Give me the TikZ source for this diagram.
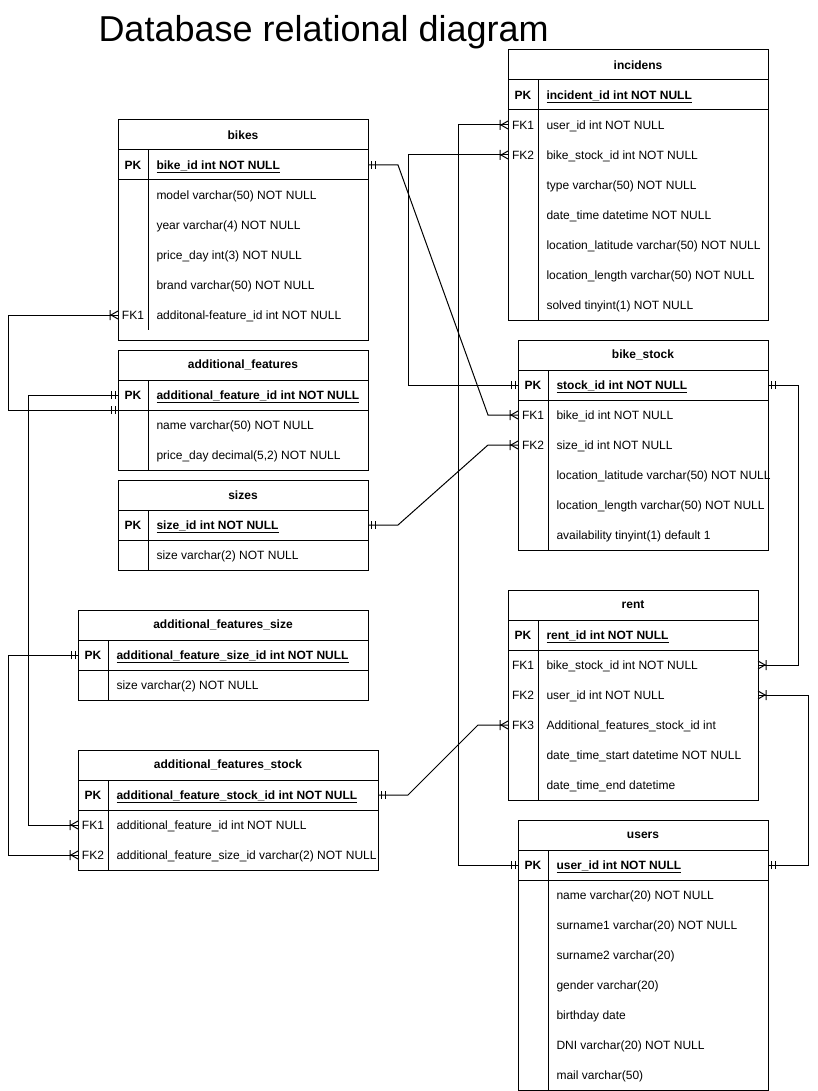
\documentclass[tikz,border=0pt]{standalone}
\usepackage{fontspec}
\setmainfont{Liberation Sans}
\usepackage{tikz}
\usetikzlibrary{arrows.meta, positioning, calc}

% ER end markers: mandatory one, one-to-many
\pgfdeclarearrow{
  name = ERone,
  setup code = {
    \pgfarrowssettipend{0pt}
    \pgfarrowssetlineend{0pt}
    \pgfarrowssetbackend{-8pt}
    \pgfarrowshullpoint{0pt}{4pt}
    \pgfarrowshullpoint{-8pt}{4pt}
    \pgfarrowshullpoint{-8pt}{-4pt}
    \pgfarrowshullpoint{0pt}{-4pt}
  },
  drawing code = {
    \pgfpathmoveto{\pgfpoint{-3pt}{-4pt}}
    \pgfpathlineto{\pgfpoint{-3pt}{4pt}}
    \pgfpathmoveto{\pgfpoint{-7pt}{-4pt}}
    \pgfpathlineto{\pgfpoint{-7pt}{4pt}}
    \pgfusepathqstroke
  }
}
\pgfdeclarearrow{
  name = ERmany,
  setup code = {
    \pgfarrowssettipend{0pt}
    \pgfarrowssetlineend{0pt}
    \pgfarrowssetbackend{-9pt}
    \pgfarrowshullpoint{0pt}{5pt}
    \pgfarrowshullpoint{-9pt}{5pt}
    \pgfarrowshullpoint{-9pt}{-5pt}
    \pgfarrowshullpoint{0pt}{-5pt}
  },
  drawing code = {
    \pgfpathmoveto{\pgfpoint{-8pt}{-5pt}}
    \pgfpathlineto{\pgfpoint{-8pt}{5pt}}
    \pgfpathmoveto{\pgfpoint{0pt}{4pt}}
    \pgfpathlineto{\pgfpoint{-7pt}{0pt}}
    \pgfpathlineto{\pgfpoint{0pt}{-4pt}}
    \pgfusepathqstroke
  }
}

\tikzset{
    tabletitle/.style={rectangle, draw, anchor=north west, minimum height=30pt, inner sep=0pt, outer sep=0pt, font=\fontsize{12pt}{14pt}\selectfont\bfseries},
    pkrow/.style={rectangle, draw, minimum height=30pt, inner sep=0pt, outer sep=0pt},
    tablebody/.style={rectangle, draw, inner sep=0pt, outer sep=0pt},
    rowbox/.style={rectangle, anchor=north west, minimum height=30pt, inner sep=0pt, outer sep=0pt},
    keytext/.style={anchor=center, inner sep=0pt, text height=8.6pt, text depth=0pt},
    fieldtext/.style={anchor=west, inner sep=0pt, text height=8.6pt, text depth=0pt},
    rel/.style={draw}
}

% #1 name, #2 top left, #3 width, #4 key column, #5 title, #6 pk field, #7 rows, #8 body height
\newcommand{\dbtable}[8]{%
  \node[tabletitle, minimum width=#3pt] (#1) at (#2) {#5};
  \node[pkrow, minimum width=#3pt, below=0pt of #1] (#1-pk) {};
  \node[tablebody, minimum width=#3pt, minimum height=#8pt, below=0pt of #1-pk] (#1-body) {};
  \draw (#1-pk.north west) ++(#4,0) -- ++(0,30);
  \node[keytext] (#1-pk-key) at ($(#1-pk.west)+(#4/2,0)$) {\bfseries PK};
  \node[fieldtext] (#1-pk-text) at ($(#1-pk.west)+(#4+8,0)$) {\bfseries\underline{#6}};
  \foreach \k/\f [count=\i] in {#7} {
    \node[rowbox, minimum width=#3pt] (#1-\i) at ($(#1-body.north west)+(0,30*\i-30)$) {};
    \draw ($(#1-\i.north west)+(#4,0)$) -- ($(#1-\i.south west)+(#4,0)$);
    \node[keytext] (#1-\i-key) at ($(#1-\i.west)+(#4/2,0)$) {\k};
    \node[fieldtext] (#1-\i-text) at ($(#1-\i.west)+(#4+8,0)$) {\f};
  }%
}

\begin{document}
\begin{tikzpicture}[x=1pt, y=-1pt, line width=1pt, font=\fontsize{12pt}{14pt}\selectfont]
\useasboundingbox (0,0) rectangle (818,1091);

\node[anchor=base west, inner sep=0pt] (title) at (98,42) {\fontsize{36pt}{40pt}\selectfont Database relational diagram};

% tables
\dbtable{bikes}{118,120}{250}{30}{bikes}{bike\_id int NOT NULL}%
  {/model varchar(50) NOT NULL, /year varchar(4) NOT NULL, /price\_day int(3) NOT NULL, /brand varchar(50) NOT NULL, FK1/additonal-feature\_id int NOT NULL}{160}
\dbtable{incid}{508,50}{260}{30}{incidens}{incident\_id int NOT NULL}%
  {FK1/user\_id int NOT NULL, FK2/bike\_stock\_id int NOT NULL, /type varchar(50) NOT NULL, /date\_time datetime NOT NULL, /location\_latitude varchar(50) NOT NULL, /location\_length varchar(50) NOT NULL, /solved tinyint(1) NOT NULL}{210}
\dbtable{bstock}{518,340}{250}{30}{bike\_stock}{stock\_id int NOT NULL}%
  {FK1/bike\_id int NOT NULL, FK2/size\_id int NOT NULL, /location\_latitude varchar(50) NOT NULL, /location\_length varchar(50) NOT NULL, /availability tinyint(1) default 1}{150}
\dbtable{addf}{118,350}{250}{30}{additional\_features}{additional\_feature\_id int NOT NULL}%
  {/name varchar(50) NOT NULL, /{price\_day decimal(5,2) NOT NULL}}{60}
\dbtable{sizes}{118,480}{250}{30}{sizes}{size\_id int NOT NULL}%
  {/size varchar(2) NOT NULL}{30}
\dbtable{addfsize}{78,610}{290}{30}{additional\_features\_size}{additional\_feature\_size\_id int NOT NULL}%
  {/size varchar(2) NOT NULL}{30}
\dbtable{addfstock}{78,750}{300}{30}{additional\_features\_stock}{additional\_feature\_stock\_id int NOT NULL}%
  {FK1/additional\_feature\_id int NOT NULL, FK2/additional\_feature\_size\_id varchar(2) NOT NULL}{60}
\dbtable{rent}{508,590}{250}{30}{rent}{rent\_id int NOT NULL}%
  {FK1/bike\_stock\_id int NOT NULL, FK2/user\_id int NOT NULL, FK3/Additional\_features\_stock\_id int, /date\_time\_start datetime NOT NULL, /date\_time\_end datetime}{150}
\dbtable{users}{518,820}{250}{30}{users}{user\_id int NOT NULL}%
  {/name varchar(20) NOT NULL, /surname1 varchar(20) NOT NULL, /surname2 varchar(20), /gender varchar(20), /birthday date, /DNI varchar(20) NOT NULL, /mail varchar(50)}{210}

% relations
\draw[rel, ERone-ERmany] (bikes-pk.east) -- ++(30,0) -- ($(bstock-1.west)+(-30,0)$) -- (bstock-1.west);
\draw[rel, ERone-ERmany] (sizes-pk.east) -- ++(30,0) -- ($(bstock-2.west)+(-30,0)$) -- (bstock-2.west);
\draw[rel, ERone-ERmany] (bstock-pk.west) -- ++(-110,0) |- (incid-2.west);
\draw[rel, ERone-ERmany] (users-pk.west) -- ++(-60,0) |- (incid-1.west);
\draw[rel, ERone-ERmany] (bstock-pk.east) -- ++(30,0) |- (rent-1.east);
\draw[rel, ERone-ERmany] (users-pk.east) -- ++(40,0) |- (rent-2.east);
\draw[rel, ERone-ERmany] (addfstock-pk.east) -- ++(30,0) -- ($(rent-3.west)+(-30,0)$) -- (rent-3.west);
\draw[rel, ERone-ERmany] (addf-pk.west) -- ++(-90,0) |- (addfstock-1.west);
\draw[rel, ERmany-ERone] (bikes-5.west) -- ++(-110,0) |- (addf-pk.south west);
\draw[rel, ERone-ERmany] (addfsize-pk.west) -- ++(-70,0) |- (addfstock-2.west);

\end{tikzpicture}
\end{document}
